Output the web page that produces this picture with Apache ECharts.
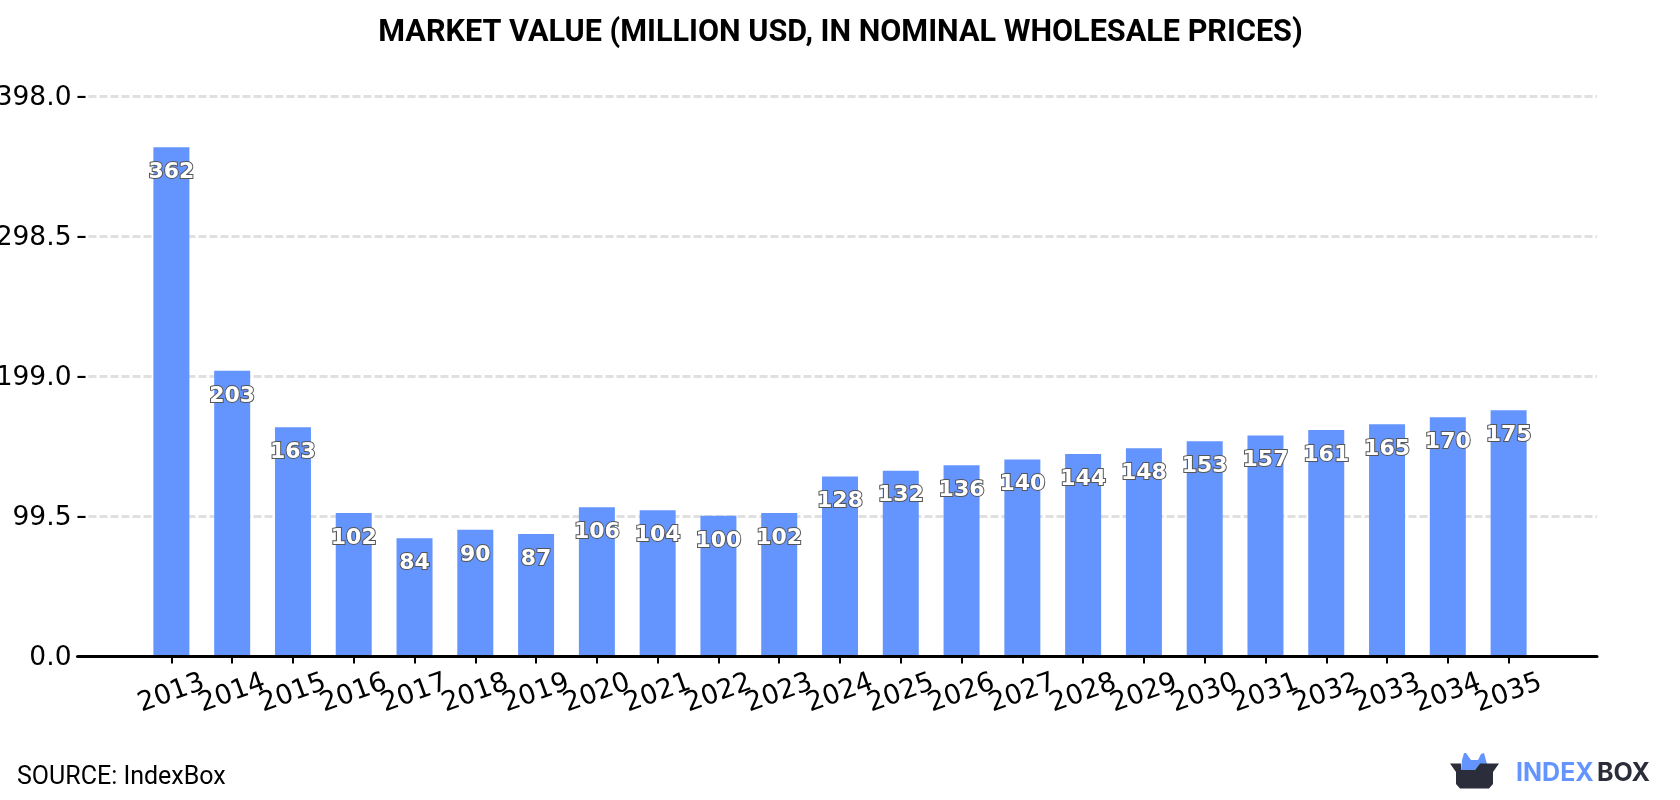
<!DOCTYPE html>
<html>
<head>
<meta charset="utf-8">
<style>html,body{margin:0;padding:0;background:#fff}#chart{width:1680px;height:800px}</style>
<script src="https://cdn.jsdelivr.net/npm/echarts@6/dist/echarts.min.js"></script>
</head>
<body>
<div id="chart"></div>
<script>
const years = ['2013','2014','2015','2016','2017','2018','2019','2020','2021','2022','2023','2024','2025','2026','2027','2028','2029','2030','2031','2032','2033','2034','2035'];
const marketValue = [362,203,163,102,84,90,87,106,104,100,102,128,132,136,140,144,148,153,157,161,165,170,175];
const yTickStep = 99.5;
const yMax = 398;
const chartTitle = 'MARKET VALUE (MILLION USD, IN NOMINAL WHOLESALE PRICES)';
const sourceNote = 'SOURCE: IndexBox';

const BLUE = '#6495ff';
const DARK = '#2b2d3a';

const chart = echarts.init(document.getElementById('chart'), null, {renderer: 'canvas'});
chart.setOption({
  animation: false,
  backgroundColor: '#fff',
  title: {
    text: chartTitle, left: 835.5, top: 13, textAlign: 'center',
    textStyle: {fontFamily: 'Roboto', fontWeight: 'bold', fontSize: 30.6, color: '#000'}
  },
  // Outer grid carries the gridlines and baseline; inner grid holds the bars.
  grid: [
    {left: 77.5, right: 83, top: 96.5, bottom: 143.5, outerBoundsMode: 'none'},
    {left: 141, width: 1398, top: 96.5, bottom: 143.5, outerBoundsMode: 'none'}
  ],
  xAxis: [
    {
      gridIndex: 0, type: 'value', min: 0, max: 1, z: 12,
      splitLine: {show: false}, axisTick: {show: false}, axisLabel: {show: false},
      axisLine: {show: true, onZero: false, lineStyle: {color: '#000', width: 3}}
    },
    {
      gridIndex: 1, type: 'category', data: years, z: 12,
      axisLine: {show: false},
      axisTick: {show: true, alignWithLabel: true, length: 7, lineStyle: {color: '#000', width: 2}},
      axisLabel: {
        interval: 0, rotate: 20, margin: 37, align: 'center', verticalAlign: 'middle',
        fontFamily: 'DejaVu Sans', fontSize: 27, color: '#000'
      }
    }
  ],
  yAxis: [
    {
      gridIndex: 0, type: 'value', min: 0, max: yMax, interval: yTickStep, z: 5,
      axisLine: {show: false},
      axisTick: {show: true, inside: true, length: 8, lineStyle: {color: '#000', width: 2}},
      axisLabel: {
        margin: 6, verticalAlign: 'top', lineHeight: 4, fontFamily: 'DejaVu Sans', fontSize: 26.5, color: '#000',
        formatter: v => v.toFixed(1)
      },
      splitLine: {show: true, lineStyle: {color: '#e0e0e0', width: 3, type: [8, 3]}}
    },
    {
      gridIndex: 1, type: 'value', min: 0, max: yMax, interval: yTickStep, show: false
    }
  ],
  series: [{
    type: 'bar', xAxisIndex: 1, yAxisIndex: 1, barWidth: 36, z: 10,
    data: marketValue,
    itemStyle: {color: BLUE},
    label: {
      show: true, position: 'insideTop', distance: 14,
      fontFamily: 'DejaVu Sans', fontWeight: 'bold', fontSize: 22,
      color: '#fff', textBorderColor: '#555', textBorderWidth: 2
    }
  }],
  graphic: [
    {type: 'text', left: 17, top: 765, style: {text: sourceNote, fontFamily: 'Roboto', fontSize: 25, fill: '#000'}},
    {type: 'polygon', shape: {points: [[1461,770],[1462,760],[1464,753],[1466,753],[1471,760],[1478,760],[1481,754],[1484,753],[1487,764],[1480,764],[1475,770]]}, style: {fill: BLUE}},
    {type: 'polygon', shape: {points: [[1450,763.5],[1461,763.5],[1461,770],[1475,770],[1480,763.5],[1499,763.5],[1493,772],[1493,784],[1489,788.5],[1460,788.5],[1456,784],[1456,772]]}, style: {fill: DARK}},
    {type: 'text', left: 1516, top: 761, style: {text: 'INDEX', fontFamily: 'Inter', fontWeight: 'bold', fontSize: 25, fill: BLUE}},
    {type: 'text', left: 1597, top: 761, style: {text: 'BOX', fontFamily: 'Inter', fontWeight: 'bold', fontSize: 25, fill: DARK}}
  ]
});
</script>
</body>
</html>
